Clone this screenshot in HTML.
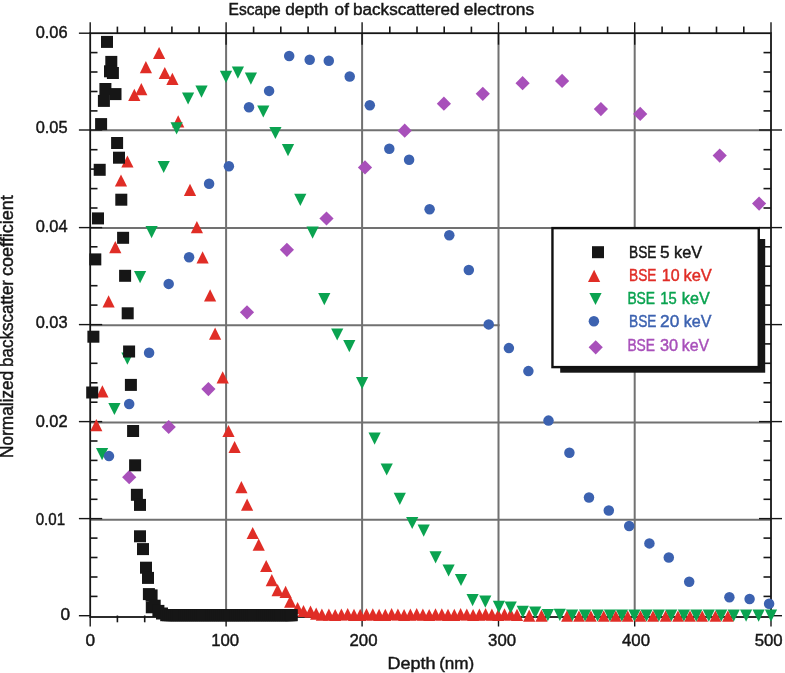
<!DOCTYPE html>
<html lang="en"><head><meta charset="utf-8"><title>Escape depth of backscattered electrons</title>
<style>html,body{margin:0;padding:0;background:#fff}svg{display:block}text{font-family:"Liberation Sans",sans-serif;fill:#161616;stroke:#161616;stroke-width:0.45px}</style>
</head><body>
<svg width="785" height="673" viewBox="0 0 785 673">
<rect width="785" height="673" fill="#fff"/>
<g stroke="#717171" stroke-width="2" fill="none">
<line x1="226.1" y1="33.2" x2="226.1" y2="617"/>
<line x1="362.1" y1="33.2" x2="362.1" y2="617"/>
<line x1="498.5" y1="33.2" x2="498.5" y2="617"/>
<line x1="634.7" y1="33.2" x2="634.7" y2="617"/>
<line x1="90.2" y1="130.2" x2="771" y2="130.2"/>
<line x1="90.2" y1="228" x2="771" y2="228"/>
<line x1="90.2" y1="325.3" x2="499.6" y2="325.3"/>
<line x1="90.2" y1="422.5" x2="771" y2="422.5"/>
<line x1="90.2" y1="519.7" x2="771" y2="519.7"/>
</g>
<g stroke="#161616" fill="none">
<rect x="90.2" y="33.2" width="680.8" height="583.8" stroke-width="1.8"/>
<g stroke-width="1.4">
<line x1="90.2" y1="22.2" x2="90.2" y2="33.2"/>
<line x1="90.2" y1="617" x2="90.2" y2="626.5"/>
<line x1="226.1" y1="22.2" x2="226.1" y2="44.7"/>
<line x1="226.1" y1="617" x2="226.1" y2="626.5"/>
<line x1="362.1" y1="22.2" x2="362.1" y2="44.7"/>
<line x1="362.1" y1="617" x2="362.1" y2="626.5"/>
<line x1="498.5" y1="22.2" x2="498.5" y2="44.7"/>
<line x1="498.5" y1="617" x2="498.5" y2="626.5"/>
<line x1="634.7" y1="22.2" x2="634.7" y2="44.7"/>
<line x1="634.7" y1="617" x2="634.7" y2="626.5"/>
<line x1="771" y1="22.2" x2="771" y2="33.2"/>
<line x1="771" y1="617" x2="771" y2="626.5"/>
<line x1="78.9" y1="33.2" x2="90.2" y2="33.2"/>
<line x1="78.9" y1="130" x2="102.2" y2="130"/>
<line x1="759" y1="130" x2="782" y2="130"/>
<line x1="78.9" y1="227.6" x2="102.2" y2="227.6"/>
<line x1="759" y1="227.6" x2="782" y2="227.6"/>
<line x1="78.9" y1="324.6" x2="102.2" y2="324.6"/>
<line x1="759" y1="324.6" x2="782" y2="324.6"/>
<line x1="78.9" y1="421.6" x2="102.2" y2="421.6"/>
<line x1="759" y1="421.6" x2="782" y2="421.6"/>
<line x1="78.9" y1="518.6" x2="102.2" y2="518.6"/>
<line x1="759" y1="518.6" x2="782" y2="518.6"/>
<line x1="78.9" y1="615.7" x2="90.2" y2="615.7"/>
<line x1="771" y1="615.7" x2="782" y2="615.7"/>
</g>
<g stroke-width="1.6">
<line x1="117.4" y1="26.6" x2="117.4" y2="33.2"/>
<line x1="117.4" y1="615.5" x2="117.4" y2="622.3"/>
<line x1="144.7" y1="26.6" x2="144.7" y2="33.2"/>
<line x1="144.7" y1="615.5" x2="144.7" y2="622.3"/>
<line x1="171.9" y1="26.6" x2="171.9" y2="33.2"/>
<line x1="199.1" y1="26.6" x2="199.1" y2="33.2"/>
<line x1="253.6" y1="26.6" x2="253.6" y2="33.2"/>
<line x1="280.8" y1="26.6" x2="280.8" y2="33.2"/>
<line x1="308.1" y1="26.6" x2="308.1" y2="33.2"/>
<line x1="335.3" y1="26.6" x2="335.3" y2="33.2"/>
<line x1="389.8" y1="26.6" x2="389.8" y2="33.2"/>
<line x1="417" y1="26.6" x2="417" y2="33.2"/>
<line x1="444.2" y1="26.6" x2="444.2" y2="33.2"/>
<line x1="471.4" y1="26.6" x2="471.4" y2="33.2"/>
<line x1="525.9" y1="26.6" x2="525.9" y2="33.2"/>
<line x1="553.1" y1="26.6" x2="553.1" y2="33.2"/>
<line x1="580.4" y1="26.6" x2="580.4" y2="33.2"/>
<line x1="607.6" y1="26.6" x2="607.6" y2="33.2"/>
<line x1="662.1" y1="26.6" x2="662.1" y2="33.2"/>
<line x1="689.3" y1="26.6" x2="689.3" y2="33.2"/>
<line x1="716.5" y1="26.6" x2="716.5" y2="33.2"/>
<line x1="743.8" y1="26.6" x2="743.8" y2="33.2"/>
<line x1="90.2" y1="52.6" x2="97.5" y2="52.6"/>
<line x1="763.5" y1="52.6" x2="771" y2="52.6"/>
<line x1="90.2" y1="72" x2="97.5" y2="72"/>
<line x1="763.5" y1="72" x2="771" y2="72"/>
<line x1="90.2" y1="91.5" x2="97.5" y2="91.5"/>
<line x1="763.5" y1="91.5" x2="771" y2="91.5"/>
<line x1="90.2" y1="110.9" x2="97.5" y2="110.9"/>
<line x1="763.5" y1="110.9" x2="771" y2="110.9"/>
<line x1="90.2" y1="149.7" x2="97.5" y2="149.7"/>
<line x1="763.5" y1="149.7" x2="771" y2="149.7"/>
<line x1="90.2" y1="169.1" x2="97.5" y2="169.1"/>
<line x1="763.5" y1="169.1" x2="771" y2="169.1"/>
<line x1="90.2" y1="188.6" x2="97.5" y2="188.6"/>
<line x1="763.5" y1="188.6" x2="771" y2="188.6"/>
<line x1="90.2" y1="208" x2="97.5" y2="208"/>
<line x1="763.5" y1="208" x2="771" y2="208"/>
<line x1="90.2" y1="246.8" x2="97.5" y2="246.8"/>
<line x1="763.5" y1="246.8" x2="771" y2="246.8"/>
<line x1="763.5" y1="266.2" x2="771" y2="266.2"/>
<line x1="90.2" y1="285.7" x2="97.5" y2="285.7"/>
<line x1="763.5" y1="285.7" x2="771" y2="285.7"/>
<line x1="90.2" y1="305.1" x2="97.5" y2="305.1"/>
<line x1="763.5" y1="305.1" x2="771" y2="305.1"/>
<line x1="763.5" y1="343.9" x2="771" y2="343.9"/>
<line x1="90.2" y1="363.3" x2="97.5" y2="363.3"/>
<line x1="763.5" y1="363.3" x2="771" y2="363.3"/>
<line x1="90.2" y1="382.8" x2="97.5" y2="382.8"/>
<line x1="763.5" y1="382.8" x2="771" y2="382.8"/>
<line x1="90.2" y1="402.2" x2="97.5" y2="402.2"/>
<line x1="763.5" y1="402.2" x2="771" y2="402.2"/>
<line x1="90.2" y1="441" x2="97.5" y2="441"/>
<line x1="763.5" y1="441" x2="771" y2="441"/>
<line x1="90.2" y1="460.4" x2="97.5" y2="460.4"/>
<line x1="763.5" y1="460.4" x2="771" y2="460.4"/>
<line x1="90.2" y1="479.9" x2="97.5" y2="479.9"/>
<line x1="763.5" y1="479.9" x2="771" y2="479.9"/>
<line x1="90.2" y1="499.3" x2="97.5" y2="499.3"/>
<line x1="763.5" y1="499.3" x2="771" y2="499.3"/>
<line x1="90.2" y1="538.1" x2="97.5" y2="538.1"/>
<line x1="763.5" y1="538.1" x2="771" y2="538.1"/>
<line x1="90.2" y1="557.5" x2="97.5" y2="557.5"/>
<line x1="763.5" y1="557.5" x2="771" y2="557.5"/>
<line x1="90.2" y1="577" x2="97.5" y2="577"/>
<line x1="763.5" y1="577" x2="771" y2="577"/>
<line x1="90.2" y1="596.4" x2="97.5" y2="596.4"/>
<line x1="763.5" y1="596.4" x2="771" y2="596.4"/>
</g>
</g>
<g fill="#E02D26">
<path d="M96.3 419.1L102.4 431.3L90.2 431.3Z"/>
<path d="M102.4 385.3L108.5 397.5L96.3 397.5Z"/>
<path d="M108.6 295.2L114.7 307.4L102.5 307.4Z"/>
<path d="M115.3 241.1L121.4 253.3L109.2 253.3Z"/>
<path d="M121 174.4L127.1 186.6L114.9 186.6Z"/>
<path d="M127.4 155.4L133.5 167.6L121.3 167.6Z"/>
<path d="M134.3 88.8L140.4 101L128.2 101Z"/>
<path d="M141.3 83.1L147.4 95.3L135.2 95.3Z"/>
<path d="M145.9 61L152 73.2L139.8 73.2Z"/>
<path d="M159.1 46.9L165.2 59.1L153 59.1Z"/>
<path d="M164.8 66.9L170.9 79.1L158.7 79.1Z"/>
<path d="M172.4 72.8L178.5 85L166.3 85Z"/>
<path d="M178.2 115.3L184.3 127.5L172.1 127.5Z"/>
<path d="M190 183.7L196.1 195.9L183.9 195.9Z"/>
<path d="M196.9 221.1L203 233.3L190.8 233.3Z"/>
<path d="M202.6 251.3L208.7 263.5L196.5 263.5Z"/>
<path d="M210.1 289.3L216.2 301.5L204 301.5Z"/>
<path d="M215.1 327.5L221.2 339.7L209 339.7Z"/>
<path d="M222.7 371.3L228.8 383.5L216.6 383.5Z"/>
<path d="M228.5 424.9L234.6 437.1L222.4 437.1Z"/>
<path d="M234.6 440.9L240.7 453.1L228.5 453.1Z"/>
<path d="M241.4 481L247.5 493.2L235.3 493.2Z"/>
<path d="M247.1 498.6L253.2 510.8L241 510.8Z"/>
<path d="M252.7 526.9L258.8 539.1L246.6 539.1Z"/>
<path d="M258.7 538.6L264.8 550.8L252.6 550.8Z"/>
<path d="M266.2 559.9L272.3 572.1L260.1 572.1Z"/>
<path d="M271.8 574L277.9 586.2L265.7 586.2Z"/>
<path d="M277.6 584.1L283.7 596.3L271.5 596.3Z"/>
<path d="M285.6 585.7L291.7 597.9L279.5 597.9Z"/>
<path d="M290.2 595.5L296.3 607.7L284.1 607.7Z"/>
<path d="M297.6 601.9L303.7 614.1L291.5 614.1Z"/>
<path d="M303.5 604.9L309.6 617.1L297.4 617.1Z"/>
<path d="M310.5 605.6L316.6 617.8L304.4 617.8Z"/>
<path d="M316.2 607.5L322.3 619.7L310.1 619.7Z"/>
<path d="M321.9 608.5L328 620.7L315.8 620.7Z"/>
<path d="M328.9 608.5L335 620.7L322.8 620.7Z"/>
<path d="M335.2 608.9L341.3 621.1L329.1 621.1Z"/>
<path d="M341.4 608.4L347.5 620.6L335.3 620.6Z"/>
<path d="M347.7 608.1L353.8 620.3L341.6 620.3Z"/>
<path d="M354 608.7L360.1 620.9L347.9 620.9Z"/>
<path d="M360.2 608.8L366.3 621L354.1 621Z"/>
<path d="M366.5 608.2L372.6 620.4L360.4 620.4Z"/>
<path d="M372.8 608.3L378.9 620.5L366.7 620.5Z"/>
<path d="M379.1 608.8L385.2 621L373 621Z"/>
<path d="M385.3 608.7L391.4 620.9L379.2 620.9Z"/>
<path d="M391.6 608.1L397.7 620.3L385.5 620.3Z"/>
<path d="M397.9 608.4L404 620.6L391.8 620.6Z"/>
<path d="M404.1 608.9L410.2 621.1L398 621.1Z"/>
<path d="M410.4 608.5L416.5 620.7L404.3 620.7Z"/>
<path d="M416.7 608.1L422.8 620.3L410.6 620.3Z"/>
<path d="M422.9 608.6L429 620.8L416.8 620.8Z"/>
<path d="M429.2 608.9L435.3 621.1L423.1 621.1Z"/>
<path d="M435.5 608.3L441.6 620.5L429.4 620.5Z"/>
<path d="M441.8 608.2L447.9 620.4L435.7 620.4Z"/>
<path d="M448 608.8L454.1 621L441.9 621Z"/>
<path d="M454.3 608.7L460.4 620.9L448.2 620.9Z"/>
<path d="M460.6 608.1L466.7 620.3L454.5 620.3Z"/>
<path d="M466.8 608.4L472.9 620.6L460.7 620.6Z"/>
<path d="M473.1 608.9L479.2 621.1L467 621.1Z"/>
<path d="M479.4 608.5L485.5 620.7L473.3 620.7Z"/>
<path d="M485.6 608.1L491.7 620.3L479.5 620.3Z"/>
<path d="M491.9 608.6L498 620.8L485.8 620.8Z"/>
<path d="M498.2 608.9L504.3 621.1L492.1 621.1Z"/>
<path d="M504.5 608.3L510.6 620.5L498.4 620.5Z"/>
<path d="M510.7 608.2L516.8 620.4L504.6 620.4Z"/>
<path d="M517 608.8L523.1 621L510.9 621Z"/>
<path d="M529.2 609.5L535.3 621.7L523.1 621.7Z"/>
<path d="M541.5 609.5L547.6 621.7L535.4 621.7Z"/>
</g>
<g fill="#0AA350">
<path d="M96 448.1L108.2 448.1L102.1 460.3Z"/>
<path d="M108.3 402.9L120.5 402.9L114.4 415.1Z"/>
<path d="M121.3 352.6L133.5 352.6L127.4 364.8Z"/>
<path d="M134 271L146.2 271L140.1 283.2Z"/>
<path d="M145.5 226L157.7 226L151.6 238.2Z"/>
<path d="M157.6 160.9L169.8 160.9L163.7 173.1Z"/>
<path d="M170.5 122.3L182.7 122.3L176.6 134.5Z"/>
<path d="M182 92.4L194.2 92.4L188.1 104.6Z"/>
<path d="M195.4 85.6L207.6 85.6L201.5 97.8Z"/>
<path d="M219.9 70.7L232.1 70.7L226 82.9Z"/>
<path d="M231.8 66.6L244 66.6L237.9 78.8Z"/>
<path d="M244.8 72.5L257 72.5L250.9 84.7Z"/>
<path d="M257.2 105.4L269.4 105.4L263.3 117.6Z"/>
<path d="M269.3 126.9L281.5 126.9L275.4 139.1Z"/>
<path d="M281.9 144.1L294.1 144.1L288 156.3Z"/>
<path d="M294.2 193.7L306.4 193.7L300.3 205.9Z"/>
<path d="M306.5 226.6L318.7 226.6L312.6 238.8Z"/>
<path d="M318.2 293L330.4 293L324.3 305.2Z"/>
<path d="M331.1 328.4L343.3 328.4L337.2 340.6Z"/>
<path d="M343.2 340.1L355.4 340.1L349.3 352.3Z"/>
<path d="M356 377L368.2 377L362.1 389.2Z"/>
<path d="M368.5 432.5L380.7 432.5L374.6 444.7Z"/>
<path d="M380.6 463.4L392.8 463.4L386.7 475.6Z"/>
<path d="M393.7 492.8L405.9 492.8L399.8 505Z"/>
<path d="M406.1 516.9L418.3 516.9L412.2 529.1Z"/>
<path d="M417.6 524.5L429.8 524.5L423.7 536.7Z"/>
<path d="M429.5 551.3L441.7 551.3L435.6 563.5Z"/>
<path d="M442.5 564.4L454.7 564.4L448.6 576.6Z"/>
<path d="M454.9 573.9L467.1 573.9L461 586.1Z"/>
<path d="M466.5 594.1L478.7 594.1L472.6 606.3Z"/>
<path d="M479.2 595.5L491.4 595.5L485.3 607.7Z"/>
<path d="M492.8 600.8L505 600.8L498.9 613Z"/>
<path d="M504.6 601.4L516.8 601.4L510.7 613.6Z"/>
<path d="M516.7 605.7L528.9 605.7L522.8 617.9Z"/>
<path d="M529.1 606.4L541.3 606.4L535.2 618.6Z"/>
<path d="M541.7 609.1L553.9 609.1L547.8 621.3Z"/>
<path d="M553.7 608.8L565.9 608.8L559.8 621Z"/>
<path d="M566 609.5L578.2 609.5L572.1 621.7Z"/>
<path d="M579 609.5L591.2 609.5L585.1 621.7Z"/>
<path d="M591.5 609.5L603.7 609.5L597.6 621.7Z"/>
<path d="M603.9 609.5L616.1 609.5L610 621.7Z"/>
<path d="M615.8 609.5L628 609.5L621.9 621.7Z"/>
<path d="M628.3 609.5L640.5 609.5L634.4 621.7Z"/>
<path d="M640.4 609.5L652.6 609.5L646.5 621.7Z"/>
<path d="M652.7 609.5L664.9 609.5L658.8 621.7Z"/>
<path d="M665.1 609.5L677.3 609.5L671.2 621.7Z"/>
<path d="M677.8 609.5L690 609.5L683.9 621.7Z"/>
<path d="M690.2 609.5L702.4 609.5L696.3 621.7Z"/>
<path d="M702.7 609.5L714.9 609.5L708.8 621.7Z"/>
<path d="M715.1 609.5L727.3 609.5L721.2 621.7Z"/>
<path d="M727.6 609.5L739.8 609.5L733.7 621.7Z"/>
<path d="M740 609.5L752.2 609.5L746.1 621.7Z"/>
<path d="M752.5 609.5L764.7 609.5L758.6 621.7Z"/>
<path d="M764.9 609.5L777.1 609.5L771 621.7Z"/>
</g>
<g fill="#E02D26">
<path d="M566.9 610.5L572.7 621.7L561.1 621.7Z"/>
<path d="M579 610.5L584.8 621.7L573.2 621.7Z"/>
<path d="M590.9 610.5L596.7 621.7L585.1 621.7Z"/>
<path d="M603.7 610.5L609.5 621.7L597.9 621.7Z"/>
<path d="M615.8 610.5L621.6 621.7L610 621.7Z"/>
<path d="M627.7 610.5L633.5 621.7L621.9 621.7Z"/>
<path d="M640.5 610.5L646.3 621.7L634.7 621.7Z"/>
<path d="M653 610.5L658.8 621.7L647.2 621.7Z"/>
<path d="M665.6 610.5L671.4 621.7L659.8 621.7Z"/>
<path d="M678 610.5L683.8 621.7L672.2 621.7Z"/>
<path d="M690 610.5L695.8 621.7L684.2 621.7Z"/>
<path d="M702.2 610.5L708 621.7L696.4 621.7Z"/>
<path d="M715.4 610.5L721.2 621.7L709.6 621.7Z"/>
<path d="M727.9 610.5L733.7 621.7L722.1 621.7Z"/>
</g>
<g fill="#3C62B0">
<circle cx="109" cy="456.1" r="5.25"/>
<circle cx="129.2" cy="404" r="5.25"/>
<circle cx="149.1" cy="352.8" r="5.25"/>
<circle cx="168.7" cy="283.9" r="5.25"/>
<circle cx="189.1" cy="257.3" r="5.25"/>
<circle cx="209.1" cy="183.7" r="5.25"/>
<circle cx="228.9" cy="166.2" r="5.25"/>
<circle cx="249" cy="107.2" r="5.25"/>
<circle cx="269.1" cy="90.9" r="5.25"/>
<circle cx="289.2" cy="56" r="5.25"/>
<circle cx="309.7" cy="59.8" r="5.25"/>
<circle cx="328.8" cy="60.8" r="5.25"/>
<circle cx="349.7" cy="76.5" r="5.25"/>
<circle cx="369.8" cy="105.2" r="5.25"/>
<circle cx="389.3" cy="148.7" r="5.25"/>
<circle cx="409.1" cy="159.7" r="5.25"/>
<circle cx="429.6" cy="209.3" r="5.25"/>
<circle cx="449.3" cy="235.2" r="5.25"/>
<circle cx="468.8" cy="270" r="5.25"/>
<circle cx="488.7" cy="324.4" r="5.25"/>
<circle cx="508.9" cy="348.1" r="5.25"/>
<circle cx="528.4" cy="371.1" r="5.25"/>
<circle cx="548.5" cy="420.6" r="5.25"/>
<circle cx="569.4" cy="452.8" r="5.25"/>
<circle cx="589" cy="497.5" r="5.25"/>
<circle cx="608.8" cy="510.5" r="5.25"/>
<circle cx="629.2" cy="526" r="5.25"/>
<circle cx="649.4" cy="543.4" r="5.25"/>
<circle cx="668.8" cy="557.5" r="5.25"/>
<circle cx="689.2" cy="581.8" r="5.25"/>
<circle cx="729.4" cy="597.3" r="5.25"/>
<circle cx="749.6" cy="599" r="5.25"/>
<circle cx="769.1" cy="603.8" r="5.25"/>
</g>
<g fill="#A850BA">
<path d="M129.2 470.1L136.3 477.2L129.2 484.3L122.1 477.2Z"/>
<path d="M168.7 419.9L175.8 427L168.7 434.1L161.6 427Z"/>
<path d="M208.4 382L215.5 389.1L208.4 396.2L201.3 389.1Z"/>
<path d="M247 305.2L254.1 312.3L247 319.4L239.9 312.3Z"/>
<path d="M286.9 242.7L294 249.8L286.9 256.9L279.8 249.8Z"/>
<path d="M326.5 211.4L333.6 218.5L326.5 225.6L319.4 218.5Z"/>
<path d="M365 160.3L372.1 167.4L365 174.5L357.9 167.4Z"/>
<path d="M404.7 123.6L411.8 130.7L404.7 137.8L397.6 130.7Z"/>
<path d="M443.9 96.6L451 103.7L443.9 110.8L436.8 103.7Z"/>
<path d="M482.8 86.7L489.9 93.8L482.8 100.9L475.7 93.8Z"/>
<path d="M522.6 76.1L529.7 83.2L522.6 90.3L515.5 83.2Z"/>
<path d="M562.1 73.8L569.2 80.9L562.1 88L555 80.9Z"/>
<path d="M600.9 102L608 109.1L600.9 116.2L593.8 109.1Z"/>
<path d="M640.2 106.8L647.3 113.9L640.2 121L633.1 113.9Z"/>
<path d="M719.7 148.5L726.8 155.6L719.7 162.7L712.6 155.6Z"/>
<path d="M759.1 196.5L766.2 203.6L759.1 210.7L752 203.6Z"/>
</g>
<g fill="#161616">
<rect x="86.2" y="386.5" width="12" height="12"/>
<rect x="87.4" y="330.7" width="12" height="12"/>
<rect x="89.3" y="253.4" width="12" height="12"/>
<rect x="92" y="212.4" width="12" height="12"/>
<rect x="93.7" y="163.8" width="12" height="12"/>
<rect x="95.1" y="118.1" width="12" height="12"/>
<rect x="97.9" y="94.9" width="12" height="12"/>
<rect x="99.4" y="83" width="12" height="12"/>
<rect x="101" y="35.9" width="12" height="12"/>
<rect x="105.3" y="55.9" width="12" height="12"/>
<rect x="104" y="65.3" width="12" height="12"/>
<rect x="106.9" y="67" width="12" height="12"/>
<rect x="109.5" y="88.1" width="12" height="12"/>
<rect x="111.1" y="137" width="12" height="12"/>
<rect x="113" y="151.7" width="12" height="12"/>
<rect x="115.3" y="193.7" width="12" height="12"/>
<rect x="117.1" y="231.8" width="12" height="12"/>
<rect x="119.1" y="269.8" width="12" height="12"/>
<rect x="121.7" y="307.3" width="12" height="12"/>
<rect x="123.1" y="345.5" width="12" height="12"/>
<rect x="124.9" y="378.9" width="12" height="12"/>
<rect x="127.1" y="425" width="12" height="12"/>
<rect x="129.1" y="459.3" width="12" height="12"/>
<rect x="130.9" y="488.8" width="12" height="12"/>
<rect x="134" y="498.9" width="12" height="12"/>
<rect x="134" y="530.3" width="12" height="12"/>
<rect x="137" y="543.1" width="12" height="12"/>
<rect x="140" y="561.7" width="12" height="12"/>
<rect x="142" y="571.9" width="12" height="12"/>
<rect x="142.9" y="588.1" width="12" height="12"/>
<rect x="145.6" y="589.4" width="12" height="12"/>
<rect x="145.8" y="601.3" width="12" height="12"/>
<rect x="148.7" y="599.7" width="12" height="12"/>
<rect x="152.4" y="604.9" width="12" height="12"/>
<rect x="156" y="607.5" width="12" height="12"/>
<rect x="160.2" y="609.2" width="12" height="12"/>
<rect x="162.2" y="609.2" width="12" height="12"/>
<rect x="164.3" y="609.2" width="12" height="12"/>
<rect x="166.3" y="609.2" width="12" height="12"/>
<rect x="168.4" y="609.2" width="12" height="12"/>
<rect x="170.4" y="609.2" width="12" height="12"/>
<rect x="172.4" y="609.2" width="12" height="12"/>
<rect x="174.5" y="609.2" width="12" height="12"/>
<rect x="176.5" y="609.2" width="12" height="12"/>
<rect x="178.6" y="609.2" width="12" height="12"/>
<rect x="180.6" y="609.2" width="12" height="12"/>
<rect x="182.6" y="609.2" width="12" height="12"/>
<rect x="184.7" y="609.2" width="12" height="12"/>
<rect x="186.7" y="609.2" width="12" height="12"/>
<rect x="188.8" y="609.2" width="12" height="12"/>
<rect x="190.8" y="609.2" width="12" height="12"/>
<rect x="192.8" y="609.2" width="12" height="12"/>
<rect x="194.9" y="609.2" width="12" height="12"/>
<rect x="196.9" y="609.2" width="12" height="12"/>
<rect x="199" y="609.2" width="12" height="12"/>
<rect x="201" y="609.2" width="12" height="12"/>
<rect x="203" y="609.2" width="12" height="12"/>
<rect x="205.1" y="609.2" width="12" height="12"/>
<rect x="207.1" y="609.2" width="12" height="12"/>
<rect x="209.2" y="609.2" width="12" height="12"/>
<rect x="211.2" y="609.2" width="12" height="12"/>
<rect x="213.2" y="609.2" width="12" height="12"/>
<rect x="215.3" y="609.2" width="12" height="12"/>
<rect x="217.3" y="609.2" width="12" height="12"/>
<rect x="219.4" y="609.2" width="12" height="12"/>
<rect x="221.4" y="609.2" width="12" height="12"/>
<rect x="223.4" y="609.2" width="12" height="12"/>
<rect x="225.5" y="609.2" width="12" height="12"/>
<rect x="227.5" y="609.2" width="12" height="12"/>
<rect x="229.6" y="609.2" width="12" height="12"/>
<rect x="231.6" y="609.2" width="12" height="12"/>
<rect x="233.6" y="609.2" width="12" height="12"/>
<rect x="235.7" y="609.2" width="12" height="12"/>
<rect x="237.7" y="609.2" width="12" height="12"/>
<rect x="239.8" y="609.2" width="12" height="12"/>
<rect x="241.8" y="609.2" width="12" height="12"/>
<rect x="243.8" y="609.2" width="12" height="12"/>
<rect x="245.9" y="609.2" width="12" height="12"/>
<rect x="247.9" y="609.2" width="12" height="12"/>
<rect x="250" y="609.2" width="12" height="12"/>
<rect x="252" y="609.2" width="12" height="12"/>
<rect x="254" y="609.2" width="12" height="12"/>
<rect x="256.1" y="609.2" width="12" height="12"/>
<rect x="258.1" y="609.2" width="12" height="12"/>
<rect x="260.2" y="609.2" width="12" height="12"/>
<rect x="262.2" y="609.2" width="12" height="12"/>
<rect x="264.2" y="609.2" width="12" height="12"/>
<rect x="266.3" y="609.2" width="12" height="12"/>
<rect x="268.3" y="609.2" width="12" height="12"/>
<rect x="270.4" y="609.2" width="12" height="12"/>
<rect x="272.4" y="609.2" width="12" height="12"/>
<rect x="274.4" y="609.2" width="12" height="12"/>
<rect x="276.5" y="609.2" width="12" height="12"/>
<rect x="278.5" y="609.2" width="12" height="12"/>
<rect x="280.6" y="609.2" width="12" height="12"/>
<rect x="282.6" y="609.2" width="12" height="12"/>
<rect x="284.6" y="609.2" width="12" height="12"/>
<rect x="285.8" y="609.2" width="12" height="12"/>
</g>
<rect x="560.2" y="239" width="205" height="133.7" fill="#161616"/>
<rect x="552.45" y="228.1" width="206.3" height="139" fill="#fff" stroke="#101010" stroke-width="2.4"/>
<g fill="#161616"><rect x="592" y="246.2" width="12" height="12"/></g>
<g fill="#E02D26"><path d="M594.1 269.8L600.2 282L588 282Z"/></g>
<g fill="#0AA350"><path d="M589.4 292.9L601.6 292.9L595.5 305.1Z"/></g>
<g fill="#3C62B0"><circle cx="593.9" cy="321.3" r="5.25"/></g>
<g fill="#A850BA"><path d="M595.7 340.2L602.8 347.3L595.7 354.4L588.6 347.3Z"/></g>
<text x="629" y="257.6" font-size="17" textLength="27.4" lengthAdjust="spacingAndGlyphs" style="fill:#161616;stroke:#161616">BSE</text>
<text x="660.1" y="257.6" font-size="17" textLength="9.6" lengthAdjust="spacingAndGlyphs" style="fill:#161616;stroke:#161616">5</text>
<text x="674.1" y="257.6" font-size="17" textLength="28.1" lengthAdjust="spacingAndGlyphs" style="fill:#161616;stroke:#161616">keV</text>
<text x="629" y="280.8" font-size="17" textLength="27.4" lengthAdjust="spacingAndGlyphs" style="fill:#E02D26;stroke:#E02D26">BSE</text>
<text x="661.8" y="280.8" font-size="17" textLength="17.8" lengthAdjust="spacingAndGlyphs" style="fill:#E02D26;stroke:#E02D26">10</text>
<text x="683.4" y="280.8" font-size="17" textLength="28.4" lengthAdjust="spacingAndGlyphs" style="fill:#E02D26;stroke:#E02D26">keV</text>
<text x="627.4" y="303.8" font-size="17" textLength="27.7" lengthAdjust="spacingAndGlyphs" style="fill:#0AA350;stroke:#0AA350">BSE</text>
<text x="660.3" y="303.8" font-size="17" textLength="16.5" lengthAdjust="spacingAndGlyphs" style="fill:#0AA350;stroke:#0AA350">15</text>
<text x="681.8" y="303.8" font-size="17" textLength="27.9" lengthAdjust="spacingAndGlyphs" style="fill:#0AA350;stroke:#0AA350">keV</text>
<text x="629" y="326.7" font-size="17" textLength="27.4" lengthAdjust="spacingAndGlyphs" style="fill:#3C62B0;stroke:#3C62B0">BSE</text>
<text x="660.1" y="326.7" font-size="17" textLength="19.2" lengthAdjust="spacingAndGlyphs" style="fill:#3C62B0;stroke:#3C62B0">20</text>
<text x="683.7" y="326.7" font-size="17" textLength="27.7" lengthAdjust="spacingAndGlyphs" style="fill:#3C62B0;stroke:#3C62B0">keV</text>
<text x="627.4" y="350.9" font-size="17" textLength="27.7" lengthAdjust="spacingAndGlyphs" style="fill:#A850BA;stroke:#A850BA">BSE</text>
<text x="659.9" y="350.9" font-size="17" textLength="18.1" lengthAdjust="spacingAndGlyphs" style="fill:#A850BA;stroke:#A850BA">30</text>
<text x="681.8" y="350.9" font-size="17" textLength="27.4" lengthAdjust="spacingAndGlyphs" style="fill:#A850BA;stroke:#A850BA">keV</text>
<text x="85.5" y="645.9" font-size="16.9" textLength="9.6" lengthAdjust="spacingAndGlyphs">0</text>
<text x="211.2" y="645.9" font-size="16.9" textLength="28" lengthAdjust="spacingAndGlyphs">100</text>
<text x="349.5" y="645.9" font-size="16.9" textLength="28" lengthAdjust="spacingAndGlyphs">200</text>
<text x="488.1" y="645.9" font-size="16.9" textLength="28" lengthAdjust="spacingAndGlyphs">300</text>
<text x="622" y="645.9" font-size="16.9" textLength="28" lengthAdjust="spacingAndGlyphs">400</text>
<text x="754.7" y="645.9" font-size="16.9" textLength="28" lengthAdjust="spacingAndGlyphs">500</text>
<text x="35.7" y="37.8" font-size="16.9" textLength="31.9" lengthAdjust="spacingAndGlyphs">0.06</text>
<text x="35.7" y="133.3" font-size="16.9" textLength="31.9" lengthAdjust="spacingAndGlyphs">0.05</text>
<text x="35.7" y="231.7" font-size="16.9" textLength="31.9" lengthAdjust="spacingAndGlyphs">0.04</text>
<text x="35.7" y="327.5" font-size="16.9" textLength="31.9" lengthAdjust="spacingAndGlyphs">0.03</text>
<text x="35.7" y="427.2" font-size="16.9" textLength="31.9" lengthAdjust="spacingAndGlyphs">0.02</text>
<text x="35.7" y="524.5" font-size="16.9" textLength="29.4" lengthAdjust="spacingAndGlyphs">0.01</text>
<text x="60.5" y="620.1" font-size="16.9" textLength="9.6" lengthAdjust="spacingAndGlyphs">0</text>
<text x="228.6" y="14.5" font-size="16.8" textLength="52" lengthAdjust="spacingAndGlyphs">Escape</text>
<text x="285.2" y="14.5" font-size="16.8" textLength="43.3" lengthAdjust="spacingAndGlyphs">depth</text>
<text x="334.6" y="14.5" font-size="16.8" textLength="14.3" lengthAdjust="spacingAndGlyphs">of</text>
<text x="353" y="14.5" font-size="16.8" textLength="106.5" lengthAdjust="spacingAndGlyphs">backscattered</text>
<text x="463.8" y="14.5" font-size="16.8" textLength="70.3" lengthAdjust="spacingAndGlyphs">electrons</text>
<text x="387.4" y="669.2" font-size="16.6" textLength="48.1" lengthAdjust="spacingAndGlyphs">Depth</text>
<text x="439.2" y="669.2" font-size="16.6" textLength="35.1" lengthAdjust="spacingAndGlyphs">(nm)</text>
<text transform="translate(13.4 458) rotate(-90)" font-size="17.6" textLength="87.2" lengthAdjust="spacingAndGlyphs">Normalized</text>
<text transform="translate(13.4 366.9) rotate(-90)" font-size="17.6" textLength="86.9" lengthAdjust="spacingAndGlyphs">backscatter</text>
<text transform="translate(13.4 276.1) rotate(-90)" font-size="17.6" textLength="80.8" lengthAdjust="spacingAndGlyphs">coefficient</text>
</svg></body></html>
